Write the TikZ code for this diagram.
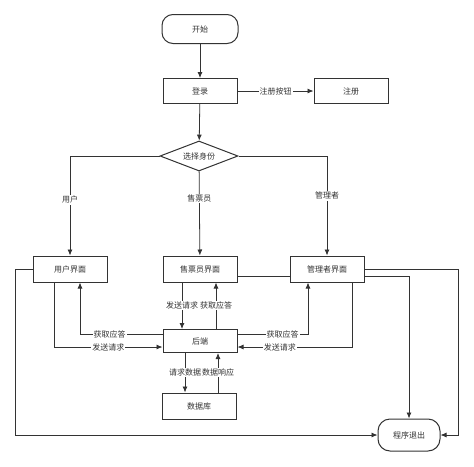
\documentclass[tikz,border=0pt]{standalone}
\usepackage{fontspec}
\setmainfont{Noto Sans CJK SC}
\usetikzlibrary{
    arrows.meta,
    backgrounds,
    shapes.geometric,
    positioning
}
\definecolor{ink}{HTML}{333333}

\begin{document}
\begin{tikzpicture}[x=1pt,y=-1pt,
    every node/.style={font=\fontsize{8}{10}\selectfont, text=ink},
    box/.style={draw=ink, line width=1pt, fill=white, minimum width=74pt, minimum height=25pt, inner sep=0pt},
    term/.style={box, rounded corners=11pt},
    decision/.style={diamond, draw=ink, line width=1pt, fill=white, aspect=2.6, minimum width=78pt, minimum height=30pt, inner sep=0pt},
    arr/.style={draw=ink, line width=0.8pt, -{Latex[length=6pt,width=5pt]}},
    lbl/.style={fill=white, inner sep=1pt}
]
    \useasboundingbox (0,0) rectangle (474,466);
    % nodes
    \node[term, minimum width=76pt, minimum height=29pt] (start) at (200,29) {开始};
    \node[box] (login) at (200,91) {登录};
    \node[box] (reg) at (351,91) {注册};
    \node[decision] (role) at (199,156) {选择身份};
    \node[box, minimum height=26pt] (user) at (70,269) {用户界面};
    \node[box, minimum height=26pt] (seller) at (200,269) {售票员界面};
    \node[box, minimum height=26pt] (admin) at (327,269) {管理者界面};
    \node[box, minimum height=23pt] (backend) at (200,341) {后端};
    \node[box, minimum height=26pt] (db) at (199,406) {数据库};
    \node[term, minimum width=62pt, minimum height=32pt, rounded corners=12pt] (exit) at (409,435) {程序退出};
    % login and role
    \draw[arr] (start) -- (login);
    \draw[arr] (login) -- node[lbl]{注册按钮} (reg);
    \draw[arr] (login) -- (role);
    \draw[arr] (role.west) -| node[lbl,pos=0.72]{用户} (user.north);
    \draw[arr] (role) -- node[lbl,pos=0.32]{售票员} (seller);
    \draw[arr] (role.east) -| node[lbl,pos=0.7]{管理者} (admin.north);
    % requests and answers
    \draw[arr] ([xshift=-16pt]user.south) |- node[lbl,pos=0.75]{发送请求} ([yshift=-6pt]backend.west);
    \draw[arr] ([yshift=7pt]backend.west) -| node[lbl,pos=0.32]{获取应答} ([xshift=10pt]user.south);
    \draw[arr] ([xshift=-18pt]seller.south) -- node[lbl]{发送请求} ([xshift=-18pt]backend.north);
    \draw[arr] ([xshift=16pt]backend.north) -- node[lbl]{获取应答} ([xshift=16pt]seller.south);
    \draw[arr] ([yshift=7pt]backend.east) -| node[lbl,pos=0.32]{获取应答} ([xshift=-19pt]admin.south);
    \draw[arr] ([xshift=25pt]admin.south) |- node[lbl,pos=0.815]{发送请求} ([yshift=-6pt]backend.east);
    \draw[arr] ([xshift=-15pt]backend.south) -- node[lbl]{请求数据} ([xshift=-14pt]db.north);
    \draw[arr] ([xshift=19pt]db.north) -- node[lbl]{数据响应} ([xshift=18pt]backend.south);
    % exits
    \draw[arr] (user.west) -- ++(-17,0) |- (exit.west);
    \begin{scope}[on background layer]
        \draw[arr] ([yshift=-7pt]seller.east) -| (exit.north);
    \end{scope}
    \draw[arr] (admin.east) -- ++(94,0) |- (exit.east);
\end{tikzpicture}
\end{document}
